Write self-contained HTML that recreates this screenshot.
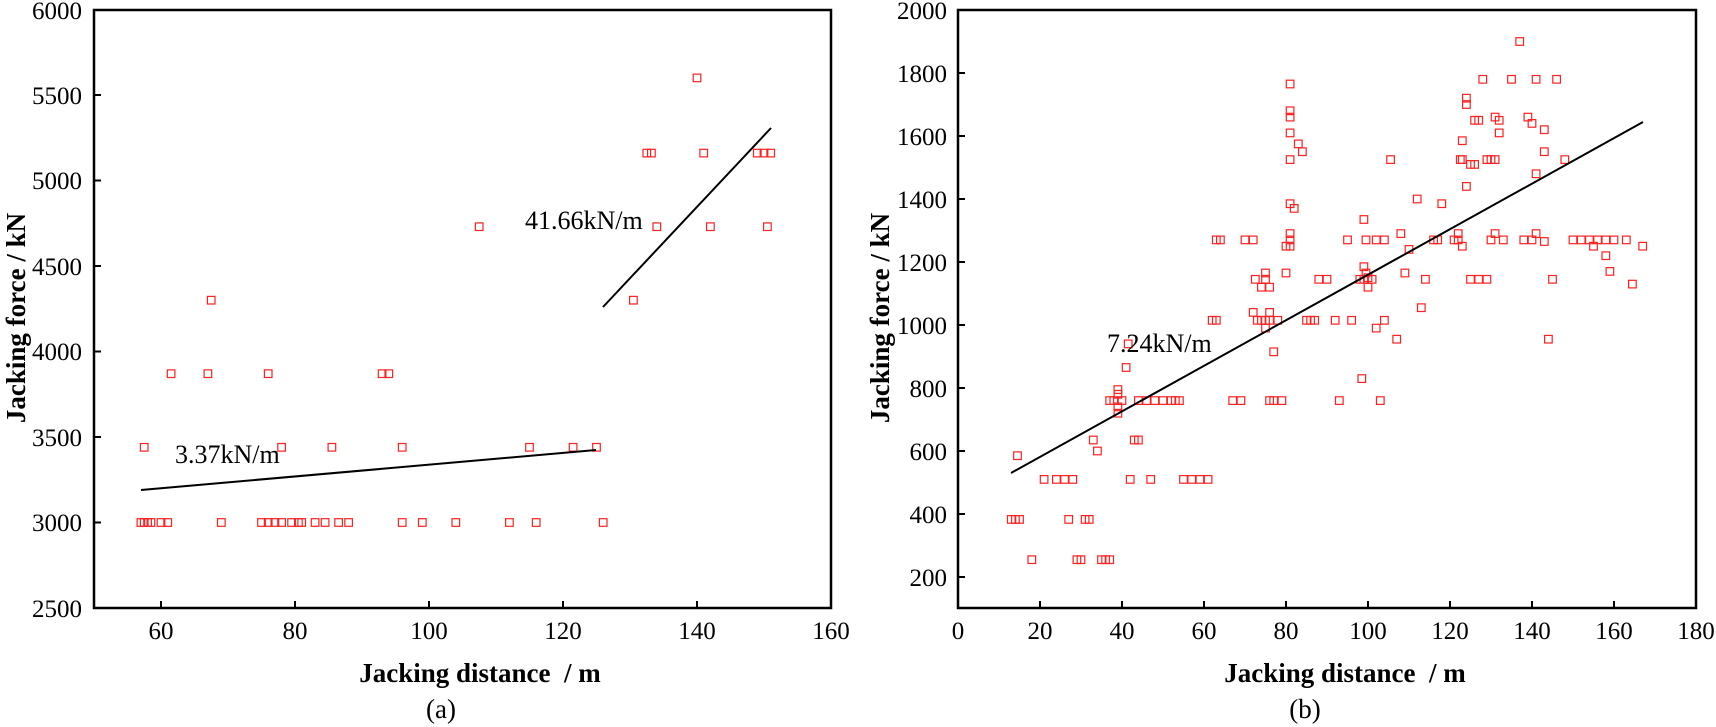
<!DOCTYPE html>
<html><head><meta charset="utf-8"><style>
html,body{margin:0;padding:0;background:#fff;}
svg{display:block;}
text{font-family:"Liberation Serif",serif;fill:#000;}
.t{font-size:25px;}
.b{font-size:27px;font-weight:bold;}
</style></head><body>
<svg id="s" width="1716" height="727" viewBox="0 0 1716 727" xmlns="http://www.w3.org/2000/svg">
<rect width="1716" height="727" fill="#fff"/>
<g id="pts" fill="none" stroke="#ff2020" stroke-width="1.2"></g>
<rect x="94" y="10" width="737" height="598" fill="none" stroke="#000" stroke-width="2.5"/>
<rect x="958" y="10" width="738" height="598" fill="none" stroke="#000" stroke-width="2.5"/>
<g id="ticks" stroke="#000" stroke-width="2"></g>
<line x1="141" y1="490" x2="596" y2="450" stroke="#000" stroke-width="2"/>
<line x1="603" y1="307" x2="771" y2="128" stroke="#000" stroke-width="2"/>
<line x1="1011" y1="473" x2="1643" y2="122" stroke="#000" stroke-width="2"/>
<text class="t" x="175" y="463" style="font-size:26px">3.37kN/m</text>
<text class="t" x="525" y="229" style="font-size:26px">41.66kN/m</text>
<text class="t" x="1107" y="352" style="font-size:26px">7.24kN/m</text>
<g class="t" text-anchor="end">
<text x="82" y="617">2500</text><text x="82" y="531">3000</text><text x="82" y="446">3500</text><text x="82" y="360">4000</text>
<text x="82" y="275">4500</text><text x="82" y="189">5000</text><text x="82" y="104">5500</text><text x="82" y="19">6000</text>
</g>
<g class="t" text-anchor="middle">
<text x="161" y="639">60</text><text x="295" y="639">80</text><text x="429" y="639">100</text><text x="563" y="639">120</text><text x="697" y="639">140</text><text x="831" y="639">160</text>
<text x="958" y="639">0</text><text x="1040" y="639">20</text><text x="1122" y="639">40</text><text x="1204" y="639">60</text><text x="1286" y="639">80</text><text x="1368" y="639">100</text><text x="1450" y="639">120</text><text x="1532" y="639">140</text><text x="1614" y="639">160</text><text x="1696" y="639">180</text>
</g>
<g class="t" text-anchor="end">
<text x="947" y="586">200</text><text x="947" y="523">400</text><text x="947" y="460">600</text><text x="947" y="397">800</text><text x="947" y="334">1000</text>
<text x="947" y="271">1200</text><text x="947" y="208">1400</text><text x="947" y="145">1600</text><text x="947" y="82">1800</text><text x="947" y="19">2000</text>
</g>
<text class="b" x="480" y="682" text-anchor="middle">Jacking distance&#160; / m</text>
<text class="b" x="1345" y="682" text-anchor="middle">Jacking distance&#160; / m</text>
<text class="t" x="441" y="718" text-anchor="middle" style="font-size:27px">(a)</text>
<text class="t" x="1305" y="718" text-anchor="middle" style="font-size:27px">(b)</text>
<text class="b" transform="translate(25,318) rotate(-90)" text-anchor="middle">Jacking force / kN</text>
<text class="b" transform="translate(889,318) rotate(-90)" text-anchor="middle">Jacking force / kN</text>
</svg>
<script>
(function(){
var NS="http://www.w3.org/2000/svg";
var g=document.getElementById("pts"),tk=document.getElementById("ticks");
function sq(x,y){var r=document.createElementNS(NS,"rect");r.setAttribute("x",(x-3.8).toFixed(1));r.setAttribute("y",(y-3.8).toFixed(1));r.setAttribute("width",7.6);r.setAttribute("height",7.6);g.appendChild(r);}
function ln(a,b,c,d){var l=document.createElementNS(NS,"line");l.setAttribute("x1",a);l.setAttribute("y1",b);l.setAttribute("x2",c);l.setAttribute("y2",d);tk.appendChild(l);}
var LX=function(x){return 94+(x-50)*6.7},LY=function(y){return 608-(y-2500)*0.171};
var RX=function(x){return 958+x*4.1},RY=function(y){return 640-y*0.315};
var L={3000:[57,57.5,58,58.5,60,61,69,75,76,77,78,79.5,80.5,81,83,84.5,86.5,88,96,99,104,112,116,126],
3440:[57.5,78,85.5,96,115,121.5,125],3870:[61.5,67,76,93,94],4300:[67.5,130.5],4730:[107.5,134,142,150.5],
5160:[132.5,133.2,141,149,150,151],5600:[140]};
for(var k in L)L[k].forEach(function(x){sq(LX(x),LY(+k));});
var R={383:[13,14,15,27,31,32],255:[18,29,30,35,36,37],510:[21,24,26,28,42,47,55,57,59,61],585:[14.5],635:[33,43,44],600:[34],
760:[37,38,40,44,46,48,50,52,53,54,67,69,76,77,79,93,103],720:[39],740:[39],780:[39],795:[39],865:[41],940:[41.5],
1015:[62,63,73,74,75,76,78,85,86,87,92,96,104],1040:[72,76],990:[75,102],915:[77],
1145:[72.5,75,88,90,98,99,101,114,125,127,129,145],1120:[74,76,100],1165:[75,80,99.5,109],
1270:[63,64,70,72,81,95,99.5,102,104,116,117,121,122,130,133,138,140,150,152,154,156,158,160,163],
1250:[80,81,155,123,167],1290:[81,108,122,131,141],1385:[81,118],1525:[81,105.5,123,129,130,131,148,122.5],1610:[81,132],
1660:[81,131,139],1680:[81],1765:[81],1575:[83],1550:[84,143],1370:[82],1335:[99],1185:[99],1150:[100],830:[98.5],955:[107,144],
1055:[113],1240:[110],1400:[112],1440:[124],1510:[125,126],1650:[126,127,132],1700:[124],1720:[124],1780:[128,135,141,146],
1900:[137],1640:[140],1480:[141],1620:[143],1265:[143],1220:[158],1170:[159],1130:[164.5],1585:[123]};
for(var k2 in R)R[k2].forEach(function(x){sq(RX(x),RY(+k2));});
[60,80,100,120,140].forEach(function(x){ln(LX(x),608,LX(x),601);});
for(var y=3000;y<=5500;y+=500)ln(94,LY(y),101,LY(y));
for(var x=20;x<=160;x+=20)ln(RX(x),608,RX(x),601);
for(var y2=200;y2<=1800;y2+=200)ln(958,RY(y2),965,RY(y2));
})();
</script>
</body></html>
